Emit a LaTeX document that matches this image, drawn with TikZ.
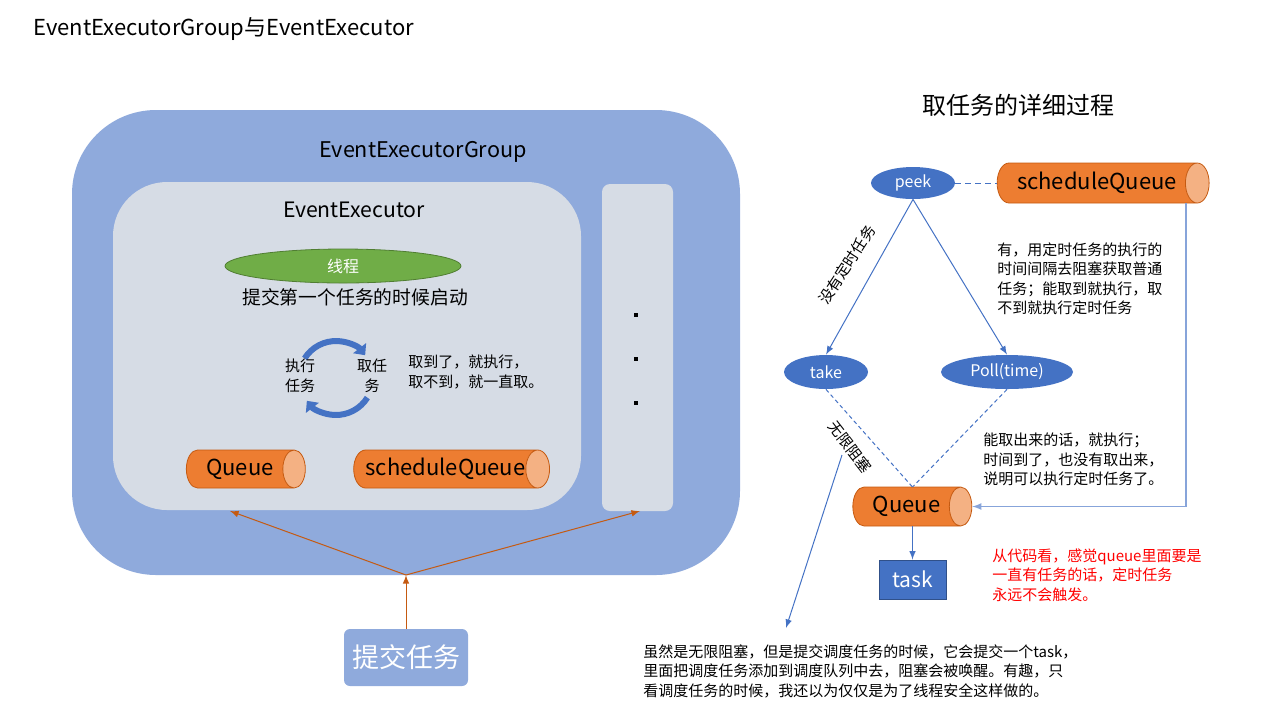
\documentclass[tikz,border=0pt]{standalone}
\usepackage{fontspec}
\setmainfont{Noto Sans CJK SC}
\usetikzlibrary{shapes.geometric,arrows.meta}
\definecolor{grpblue}{HTML}{8FAADC}
\definecolor{exgray}{HTML}{D6DCE5}
\definecolor{qorange}{HTML}{ED7D31}
\definecolor{qcap}{HTML}{F4B183}
\definecolor{qedge}{HTML}{C55A11}
\definecolor{accblue}{HTML}{4472C4}
\definecolor{thrgreen}{HTML}{70AD47}
\definecolor{thredge}{HTML}{507E32}
\begin{document}
\begin{tikzpicture}[
          x=0.5pt,
          y=-0.5pt,
          fs/.style={font=\fontsize{#1}{#1}\selectfont},
          note/.style={anchor=west, align=left, inner sep=0, font=\fontsize{7.5}{9.75}\selectfont},
          cyl/.style={cylinder, draw=qedge, line width=0.4pt, cylinder uses custom fill,
            cylinder body fill=qorange, cylinder end fill=qcap, aspect=1.1,
            inner sep=0, font=\fontsize{11}{12}\selectfont},
          op/.style={ellipse, fill=accblue, text=white, inner sep=0, font=\fontsize{8}{10}\selectfont},
          ln/.style={accblue, line width=0.5pt},
          dsh/.style={dash pattern=on 2pt off 1.5pt},
          sb/.style={qedge, line width=0.5pt, -latex},
          dot/.style={fill=black, inner sep=0, minimum size=1.6pt},
        ]
      \useasboundingbox (0,0) rectangle (1280,720);
      \node[anchor=west, inner sep=0, fs=11] (title) at (33,29) {EventExecutorGroup与EventExecutor};
      % left part
      \node[fill=grpblue, rounded corners=42pt, minimum width=334pt, minimum height=232.5pt] (grp) at (406,342.5) {};
      \node[fs=10.8] (grplbl) at (423,152) {EventExecutorGroup};
      \node[fill=exgray, rounded corners=27pt, minimum width=234pt, minimum height=164pt] (exe) at (347,346) {};
      \node[fill=exgray, rounded corners=4pt, minimum width=35.5pt, minimum height=163.5pt] (more) at (637.5,347.5) {};
      \foreach \y in {315,359,403}
        \node[dot] at (636,\y) {};
      \node[fs=10.6] (exelbl) at (354,210) {EventExecutor};
      \node[ellipse, fill=thrgreen, draw=thredge, line width=0.4pt, minimum width=118pt, minimum height=17pt,
            inner sep=0, text=white, fs=8] (thr) at (343,266) {线程};
      \node[fs=9.4] (start) at (355,297) {提交第一个任务的时候启动};
      \draw[accblue, line width=3pt, -{Triangle[width=8pt,length=4.5pt]}]
        (336,378) ++(-148:37) arc[start angle=-148, end angle=-38, radius=37];
      \draw[accblue, line width=3pt, -{Triangle[width=8pt,length=4.5pt]}]
        (336,378) ++(32:37) arc[start angle=32, end angle=142, radius=37];
      \node[align=center, inner sep=0, font=\fontsize{7.5}{10}\selectfont] (run) at (300,376) {执行\\任务};
      \node[align=center, inner sep=0, font=\fontsize{7.5}{10}\selectfont] (fetch) at (372,376) {取任\\务};
      \node[note] (loop) at (408,372) {取到了，就执行，\\取不到，就一直取。};
      \node[cyl, minimum height=59.5pt, minimum width=19pt] (q1) at (240,469) {Queue};
      \node[cyl, minimum height=97.5pt, minimum width=19pt] (sq1) at (445.5,469) {scheduleQueue};
      \node[fill=grpblue, rounded corners=3pt, minimum width=62pt, minimum height=28.5pt, text=white, fs=13.5] (sub) at (406,657.5) {提交任务};
      \coordinate (fork) at (406,575);
      \coordinate (toexe) at (230,511);
      \coordinate (tomore) at (640,511);
      \draw[sb] (sub) -- (fork);
      \draw[sb] (fork) -- (toexe);
      \draw[sb] (fork) -- (tomore);
      % right part
      \node[fs=12] (rtitle) at (1018,105) {取任务的详细过程};
      \node[op, minimum width=42pt, minimum height=16pt] (peek) at (913,183) {peek};
      \node[cyl, minimum height=106pt, minimum width=20pt] (sq2) at (1097,183) {scheduleQueue};
      \node[op, minimum width=42pt, minimum height=17pt] (take) at (826,372) {take};
      \node[op, minimum width=66pt, minimum height=17pt] (poll) at (1007,372) {Poll(time)};
      \node[cyl, minimum height=59.5pt, minimum width=19.5pt] (q2) at (906.5,506.5) {Queue};
      \node[fill=accblue, draw=accblue!70!black, line width=0.4pt, minimum width=33.5pt, minimum height=19.5pt,
            inner sep=0, text=white, fs=10.5] (task) at (912.5,579.5) {task};
      \draw[ln, dash pattern=on 3pt off 2pt] (peek) -- (sq2);
      \draw[ln, -latex] (peek.south) -- (take.north);
      \draw[ln, -latex] (peek.south) -- (poll.north);
      \node[rotate=57, fs=7.5] (nosch) at (847,265) {没有定时任务};
      \node[note] (hassch) at (997,279) {有，用定时任务的执行的\\时间间隔去阻塞获取普通\\任务；能取到就执行，取\\不到就执行定时任务};
      \coordinate (sqdrop) at (1186,203);
      \draw[grpblue!90!accblue, line width=0.6pt, -latex] (sqdrop) |- (q2.east);
      \coordinate (qtop) at (912.5,487);
      \coordinate (qbot) at (912.5,526);
      \draw[ln, dsh] (take.south) -- (qtop);
      \draw[ln, dsh] (poll.south) -- (qtop);
      \node[rotate=-52, fs=7.5] (block) at (850,447) {无限阻塞};
      \node[note] (pollnote) at (983,459.5) {能取出来的话，就执行；\\时间到了，也没有取出来，\\说明可以执行定时任务了。};
      \draw[ln, -latex] (qbot) -- (task);
      \node[note, text=red] (redq) at (992,575) {从代码看，感觉queue里面要是\\一直有任务的话，定时任务\\永远不会触发。};
      \coordinate (blkfrom) at (842,455);
      \coordinate (blkto) at (786,628);
      \draw[ln, -latex] (blkfrom) -- (blkto);
      \node[note] (wake) at (643,671) {虽然是无限阻塞，但是提交调度任务的时候，它会提交一个task，\\里面把调度任务添加到调度队列中去，阻塞会被唤醒。有趣，只\\看调度任务的时候，我还以为仅仅是为了线程安全这样做的。};
    \end{tikzpicture}
\end{document}
